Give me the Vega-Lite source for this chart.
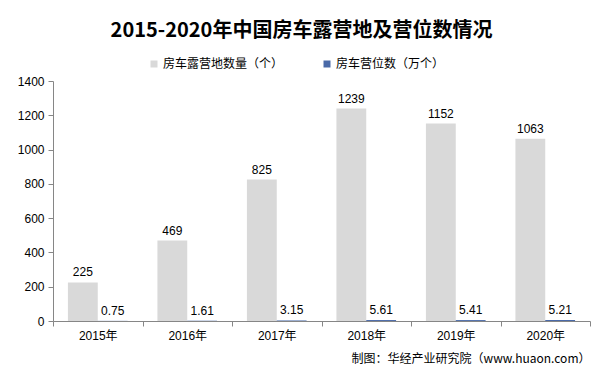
{
  "$schema": "https://vega.github.io/schema/vega-lite/v6.json",
  "autosize": "none",
  "width": 537,
  "height": 240,
  "padding": {"left": 53, "top": 81, "right": 20, "bottom": 61},
  "background": "#ffffff",
  "title": {
    "text": "2015-2020年中国房车露营地及营位数情况",
    "font": "Noto Sans CJK SC",
    "fontSize": 20,
    "fontWeight": "bold",
    "color": "#000000",
    "anchor": "middle",
    "frame": "group",
    "dx": -20,
    "offset": 17
  },
  "data": {
    "values": [
      {"year": "2015年", "series": "房车露营地数量（个）", "value": 225},
      {"year": "2016年", "series": "房车露营地数量（个）", "value": 469},
      {"year": "2017年", "series": "房车露营地数量（个）", "value": 825},
      {"year": "2018年", "series": "房车露营地数量（个）", "value": 1239},
      {"year": "2019年", "series": "房车露营地数量（个）", "value": 1152},
      {"year": "2020年", "series": "房车露营地数量（个）", "value": 1063},
      {"year": "2015年", "series": "房车营位数（万个）", "value": 0.75},
      {"year": "2016年", "series": "房车营位数（万个）", "value": 1.61},
      {"year": "2017年", "series": "房车营位数（万个）", "value": 3.15},
      {"year": "2018年", "series": "房车营位数（万个）", "value": 5.61},
      {"year": "2019年", "series": "房车营位数（万个）", "value": 5.41},
      {"year": "2020年", "series": "房车营位数（万个）", "value": 5.21}
    ]
  },
  "encoding": {
    "x": {
      "field": "year",
      "type": "nominal",
      "sort": null,
      "scale": {"paddingInner": 0, "paddingOuter": 0},
      "axis": {
        "title": "制图：华经产业研究院（www.huaon.com）",
        "titleFont": "Noto Sans CJK SC",
        "titleFontSize": 12,
        "titleFontWeight": "normal",
        "titleColor": "#000000",
        "titleAnchor": "end",
        "titleAlign": "right",
        "titlePadding": 12,
        "labelAngle": 0,
        "labelFont": "Liberation Sans, Noto Sans CJK SC",
        "labelFontSize": 12,
        "labelColor": "#000000",
        "labelPadding": 4,
        "domainColor": "#868686",
        "tickColor": "#868686",
        "tickBand": "extent",
        "tickSize": 5
      }
    },
    "xOffset": {
      "field": "series",
      "type": "nominal",
      "sort": null,
      "scale": {"paddingInner": 0, "paddingOuter": 0.5}
    },
    "y": {
      "field": "value",
      "type": "quantitative",
      "scale": {"domain": [0, 1400]},
      "axis": {
        "title": null,
        "values": [0, 200, 400, 600, 800, 1000, 1200, 1400],
        "format": "d",
        "grid": false,
        "labelFont": "Liberation Sans",
        "labelFontSize": 12,
        "labelColor": "#000000",
        "domainColor": "#868686",
        "tickColor": "#868686",
        "tickSize": 5,
        "labelPadding": 4
      }
    },
    "color": {
      "field": "series",
      "type": "nominal",
      "sort": null,
      "scale": {"range": ["#d9d9d9", "#4a6aa8"]},
      "legend": {
        "title": null,
        "orient": "none",
        "direction": "horizontal",
        "legendX": 95,
        "legendY": -23,
        "symbolType": "square",
        "symbolSize": 49,
        "symbolStrokeWidth": 0,
        "labelFont": "Noto Sans CJK SC",
        "labelFontSize": 12,
        "labelColor": "#000000",
        "columnPadding": 37,
        "labelOffset": 3
      }
    }
  },
  "layer": [
    {"mark": {"type": "bar"}},
    {
      "mark": {
        "type": "text",
        "baseline": "bottom",
        "dy": -3,
        "font": "Liberation Sans",
        "fontSize": 12,
        "color": "#000000"
      },
      "encoding": {
        "text": {"field": "value", "type": "quantitative"},
        "color": {"value": "#000000"}
      }
    }
  ],
  "config": {
    "view": {"stroke": null}
  }
}
